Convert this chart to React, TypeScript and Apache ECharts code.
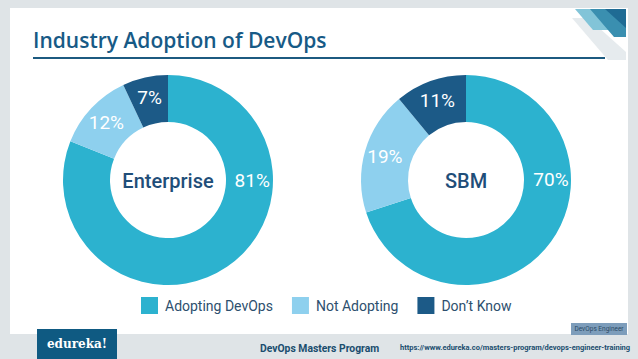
import React, { useEffect, useRef } from "react";
import * as echarts from "echarts";

const categories = ["Adopting DevOps", "Not Adopting", "Don’t Know"];
const enterpriseValues = [81, 12, 7];
const sbmValues = [70, 19, 11];
const groupNames = ["Enterprise", "SBM"];
const colors = ["#2cb2cf", "#8ed0ee", "#1c5a87"];

const R0 = 58;
const R1 = 105;

function buildSeries(name: string, values: number[], cx: number) {
  const sum = values.reduce((a, b) => a + b, 0);
  const R = (R0 + R1) / 2;
  const mid = (values[0] / sum) * Math.PI; // radians clockwise from top
  const offX = R + 1 - Math.sin(mid) * R;
  const offY = Math.cos(mid) * R - 2;
  return {
    type: "pie",
    name,
    center: [cx, 180],
    radius: [R0, R1],
    startAngle: 90,
    clockwise: true,
    avoidLabelOverlap: false,
    silent: true,
    label: {
      show: true,
      position: "inside",
      formatter: "{c}%",
      color: "#ffffff",
      fontSize: 19,
      fontWeight: "normal",
      fontFamily: "Roboto",
    },
    labelLine: { show: false },
    data: values.map((v, i) => ({
      name: categories[i],
      value: v,
      itemStyle: { color: colors[i] },
      label: i === 0 ? { offset: [offX, offY] } : undefined,
    })),
  };
}

export default function App() {
  const ref = useRef<HTMLDivElement>(null);
  useEffect(() => {
    if (!ref.current) return;
    const chart = echarts.init(ref.current, null, { renderer: "svg" });
    chart.setOption({
      animation: false,
      backgroundColor: "#dfe4e7",
      legend: {
        data: categories,
        left: 136,
        top: 292,
        icon: "rect",
        itemWidth: 17,
        itemHeight: 17,
        itemGap: 19,
        selectedMode: false,
        textStyle: { fontSize: 14, color: "#2d4f6e", fontFamily: "Roboto", padding: [0, 0, 0, 2] },
      },
      graphic: [
        { type: "rect", shape: { x: 10, y: 8, width: 618, height: 326 }, style: { fill: "#ffffff" }, z: -10 },
        { type: "polygon", shape: { points: [[572, 18], [588, 18], [626, 52], [626, 60], [608, 60]] }, style: { fill: "#e6ebee" }, z: -5 },
        { type: "polygon", shape: { points: [[575, 9], [596, 9], [614, 30], [593, 30]] }, style: { fill: "#82c4d8" } },
        { type: "polygon", shape: { points: [[590, 9], [626, 9], [626, 37], [614, 37]] }, style: { fill: "#3a8fb0" } },
        { type: "polygon", shape: { points: [[605, 9], [626, 9], [626, 28]] }, style: { fill: "#1f6b94" } },
        { type: "text", x: 33, y: 40, style: { text: "Industry Adoption of DevOps", fontSize: 21, fontWeight: 600, fontFamily: "Open Sans", fill: "#175a86", textVerticalAlign: "middle" } },
        { type: "rect", shape: { x: 33, y: 57, width: 572, height: 2 }, style: { fill: "#1c5a80" } },
        { type: "text", x: 168, y: 181, style: { text: groupNames[0], fontSize: 20, fontWeight: 500, fontFamily: "Roboto", fill: "#1f4e79", textAlign: "center", textVerticalAlign: "middle" } },
        { type: "text", x: 466, y: 181, style: { text: groupNames[1], fontSize: 20, fontWeight: 500, fontFamily: "Roboto", fill: "#1f4e79", textAlign: "center", textVerticalAlign: "middle" } },
        { type: "rect", shape: { x: 37, y: 329, width: 80, height: 30 }, style: { fill: "#0f5a82" } },
        { type: "text", x: 77, y: 344, style: { text: "edureka!", fontSize: 12, fontWeight: "bold", fontFamily: "DejaVu Serif", fill: "#ffffff", textAlign: "center", textVerticalAlign: "middle" } },
        { type: "rect", shape: { x: 571, y: 323, width: 56, height: 12 }, style: { fill: "#7d9dbb" } },
        { type: "text", x: 599, y: 329, style: { text: "DevOps Engineer", fontSize: 6.5, fontFamily: "Roboto", fill: "#2a4a66", textAlign: "center", textVerticalAlign: "middle" } },
        { type: "text", x: 260, y: 348, scaleX: 0.9, style: { text: "DevOps Masters Program", fontSize: 11.5, fontWeight: "bold", fontFamily: "Roboto", fill: "#1a4d6e", textVerticalAlign: "middle" } },
        { type: "text", x: 400, y: 347, style: { text: "https://www.edureka.co/masters-program/devops-engineer-training", fontSize: 7.5, fontWeight: "bold", fontFamily: "Roboto", fill: "#1a4d6e", textVerticalAlign: "middle" } },
      ],
      series: [
        buildSeries(groupNames[0], enterpriseValues, 168),
        buildSeries(groupNames[1], sbmValues, 466),
      ],
    });
    return () => chart.dispose();
  }, []);
  return <div ref={ref} style={{ position: "fixed", left: 0, top: 0, width: 638, height: 359 }} />;
}
